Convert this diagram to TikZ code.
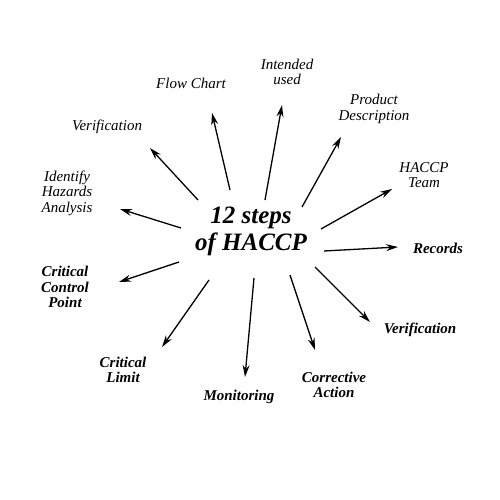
\documentclass[tikz,border=0pt]{standalone}
\usepackage{fontspec}
\setmainfont{Liberation Serif}
\usetikzlibrary{arrows.meta}

\tikzset{
  lbl/.style={font=\fontsize{15}{15.5}\selectfont\itshape, align=center, inner sep=0pt},
  blbl/.style={lbl, font=\fontsize{15}{15.5}\selectfont\bfseries\itshape},
  arr/.style={-{Stealth[length=12pt,width=7pt,inset=4pt]}, line width=1.3pt}
}

\begin{document}
\begin{tikzpicture}[x=1pt, y=-1pt]
\useasboundingbox (0,0) rectangle (500,500);

\node [align=center, inner sep=0pt, font=\fontsize{25}{27}\selectfont\bfseries\itshape] (hub) at (251,231) {12 steps\\of HACCP};

\node [lbl] (flow) at (191,83) {Flow Chart};
\node [lbl] (intd) at (287,72) {Intended\\used};
\node [lbl] (prod) at (374,109) {Product\\Description};
\node [lbl] (team) at (424,175) {HACCP\\Team};
\node [lbl] (verA) at (107,127) {Verification};
\node [lbl] (haz) at (67,193) {Identify\\Hazards\\Analysis};
\node [blbl] (rec) at (438,248) {Records};
\node [blbl] (verB) at (420,330) {Verification};
\node [blbl] (corr) at (334,385) {Corrective\\Action};
\node [blbl] (mon) at (239,397) {Monitoring};
\node [blbl] (lim) at (123,370) {Critical\\Limit};
\node [blbl] (ccp) at (65,287) {Critical\\Control\\Point};

\coordinate (t1) at (230,190);  \coordinate (h1) at (212,113);
\coordinate (t2) at (265,200);  \coordinate (h2) at (282,105);
\coordinate (t3) at (302,207);  \coordinate (h3) at (341,137);
\coordinate (t4) at (321,229);  \coordinate (h4) at (392,189);
\coordinate (t5) at (198,200);  \coordinate (h5) at (150,148);
\coordinate (t6) at (181,228);  \coordinate (h6) at (120,209);
\coordinate (t7) at (324,251);  \coordinate (h7) at (398,247);
\coordinate (t8) at (315,267);  \coordinate (h8) at (370,322);
\coordinate (t9) at (290,275);  \coordinate (h9) at (315,350);
\coordinate (t10) at (254,278); \coordinate (h10) at (245,377);
\coordinate (t11) at (209,280); \coordinate (h11) at (162,347);
\coordinate (t12) at (179,262); \coordinate (h12) at (119,282);

\foreach \i in {1,...,12}
  \draw [arr] (t\i) -- (h\i);
\end{tikzpicture}
\end{document}
